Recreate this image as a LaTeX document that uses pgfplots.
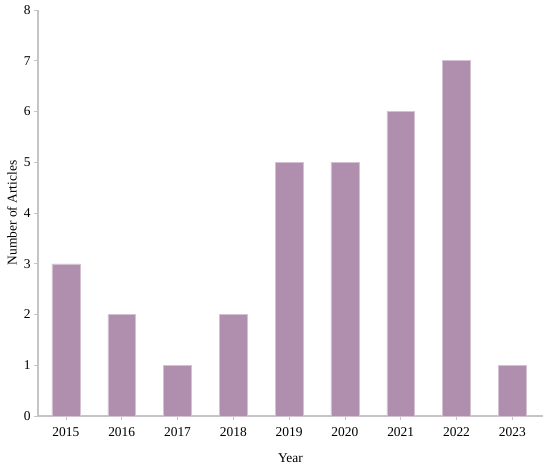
\documentclass[border=0pt]{standalone}
\usepackage{pgfplots}
\pgfplotsset{compat=1.18}
\usepackage{fontspec}
\setmainfont{Liberation Serif}
\definecolor{barfill}{HTML}{B08FAE}
\definecolor{axgray}{HTML}{C4C4C4}
\begin{document}
\begin{tikzpicture}
\begin{axis}[
  name=ax,
  scale only axis,
  width=505bp, height=406bp,
  ybar, bar width=0.5,
  xmin=-0.5, xmax=8.55,
  ymin=0, ymax=8,
  xtick=data,
  xticklabels={2015,2016,2017,2018,2019,2020,2021,2022,2023},
  ytick={0,1,...,8},
  axis x line*=bottom, axis y line*=left,
  axis line style={axgray, line width=1.2pt, -},
  tick style={axgray, line width=0.8pt},
  tick align=outside,
  major tick length=4bp,
  tick label style={font=\fontsize{13.5}{16}\selectfont},
  xticklabel style={yshift=-4bp},
  /pgf/number format/assume math mode=true,
  xlabel={Year}, ylabel={Number of Articles},
  label style={font=\fontsize{13.5}{16}\selectfont},
  xlabel style={at={(axis description cs:0.5,0)}, anchor=center, yshift=-42bp},
  ylabel style={at={(axis description cs:0,0.5)}, anchor=center, yshift=26bp},
]
\addplot[fill=barfill, draw=barfill!55!white, line width=0.5pt] coordinates {
(0,3) (1,2) (2,1) (3,2) (4,5) (5,5) (6,6) (7,7) (8,1)};
\end{axis}
\pgfresetboundingbox
\path ([shift={(-38bp,-55bp)}]ax.south west) rectangle ([shift={(7bp,10bp)}]ax.north east);
\end{tikzpicture}
\end{document}
